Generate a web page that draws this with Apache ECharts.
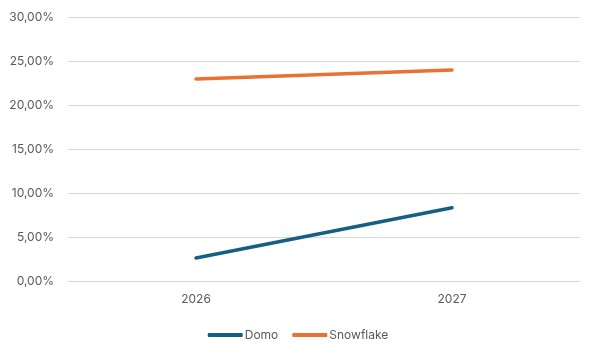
<!DOCTYPE html>
<html>
<head>
<meta charset="utf-8">
<script src="https://cdn.jsdelivr.net/npm/echarts@6/dist/echarts.min.js"></script>
<style>
  html, body { margin: 0; padding: 0; background: #fff; }
  #chart { width: 596px; height: 356px; }
</style>
</head>
<body>
<div id="chart"></div>
<script>
var years = ['2026', '2027'];
var domo = [0.0262, 0.0832];
var snowflake = [0.2296, 0.2398];

function pct(v) {
    return (v * 100).toFixed(2).replace('.', ',') + '%';
}

var myChart = echarts.init(document.getElementById('chart'));
var option = {
    animation: false,
    textStyle: { fontFamily: 'Inter, "Noto Sans", sans-serif' },
    grid: { left: 68, right: 16, top: 17, bottom: 75 },
    legend: {
        bottom: 10,
        itemWidth: 35,
        itemHeight: 4,
        itemGap: 14,
        icon: 'roundRect',
        textStyle: { color: '#595959', fontSize: 12, padding: [0, 0, 0, -3] },
        data: ['Domo', 'Snowflake']
    },
    xAxis: {
        type: 'category',
        data: years,
        boundaryGap: true,
        axisLine: { show: true, lineStyle: { color: '#d9d9d9' } },
        axisTick: { show: false },
        axisLabel: { color: '#595959', fontSize: 12, margin: 12 }
    },
    yAxis: {
        type: 'value',
        min: 0,
        max: 0.3,
        interval: 0.05,
        axisLine: { show: false },
        axisTick: { show: false },
        splitLine: { lineStyle: { color: '#d9d9d9' } },
        axisLabel: { color: '#595959', fontSize: 12, margin: 14, formatter: pct }
    },
    series: [
        {
            name: 'Domo',
            type: 'line',
            data: domo,
            symbol: 'none',
            lineStyle: { width: 3.5, color: '#156082', cap: 'round' },
            itemStyle: { color: '#156082' }
        },
        {
            name: 'Snowflake',
            type: 'line',
            data: snowflake,
            symbol: 'none',
            lineStyle: { width: 3.5, color: '#e97132', cap: 'round' },
            itemStyle: { color: '#e97132' }
        }
    ]
};
myChart.setOption(option);
</script>
</body>
</html>
